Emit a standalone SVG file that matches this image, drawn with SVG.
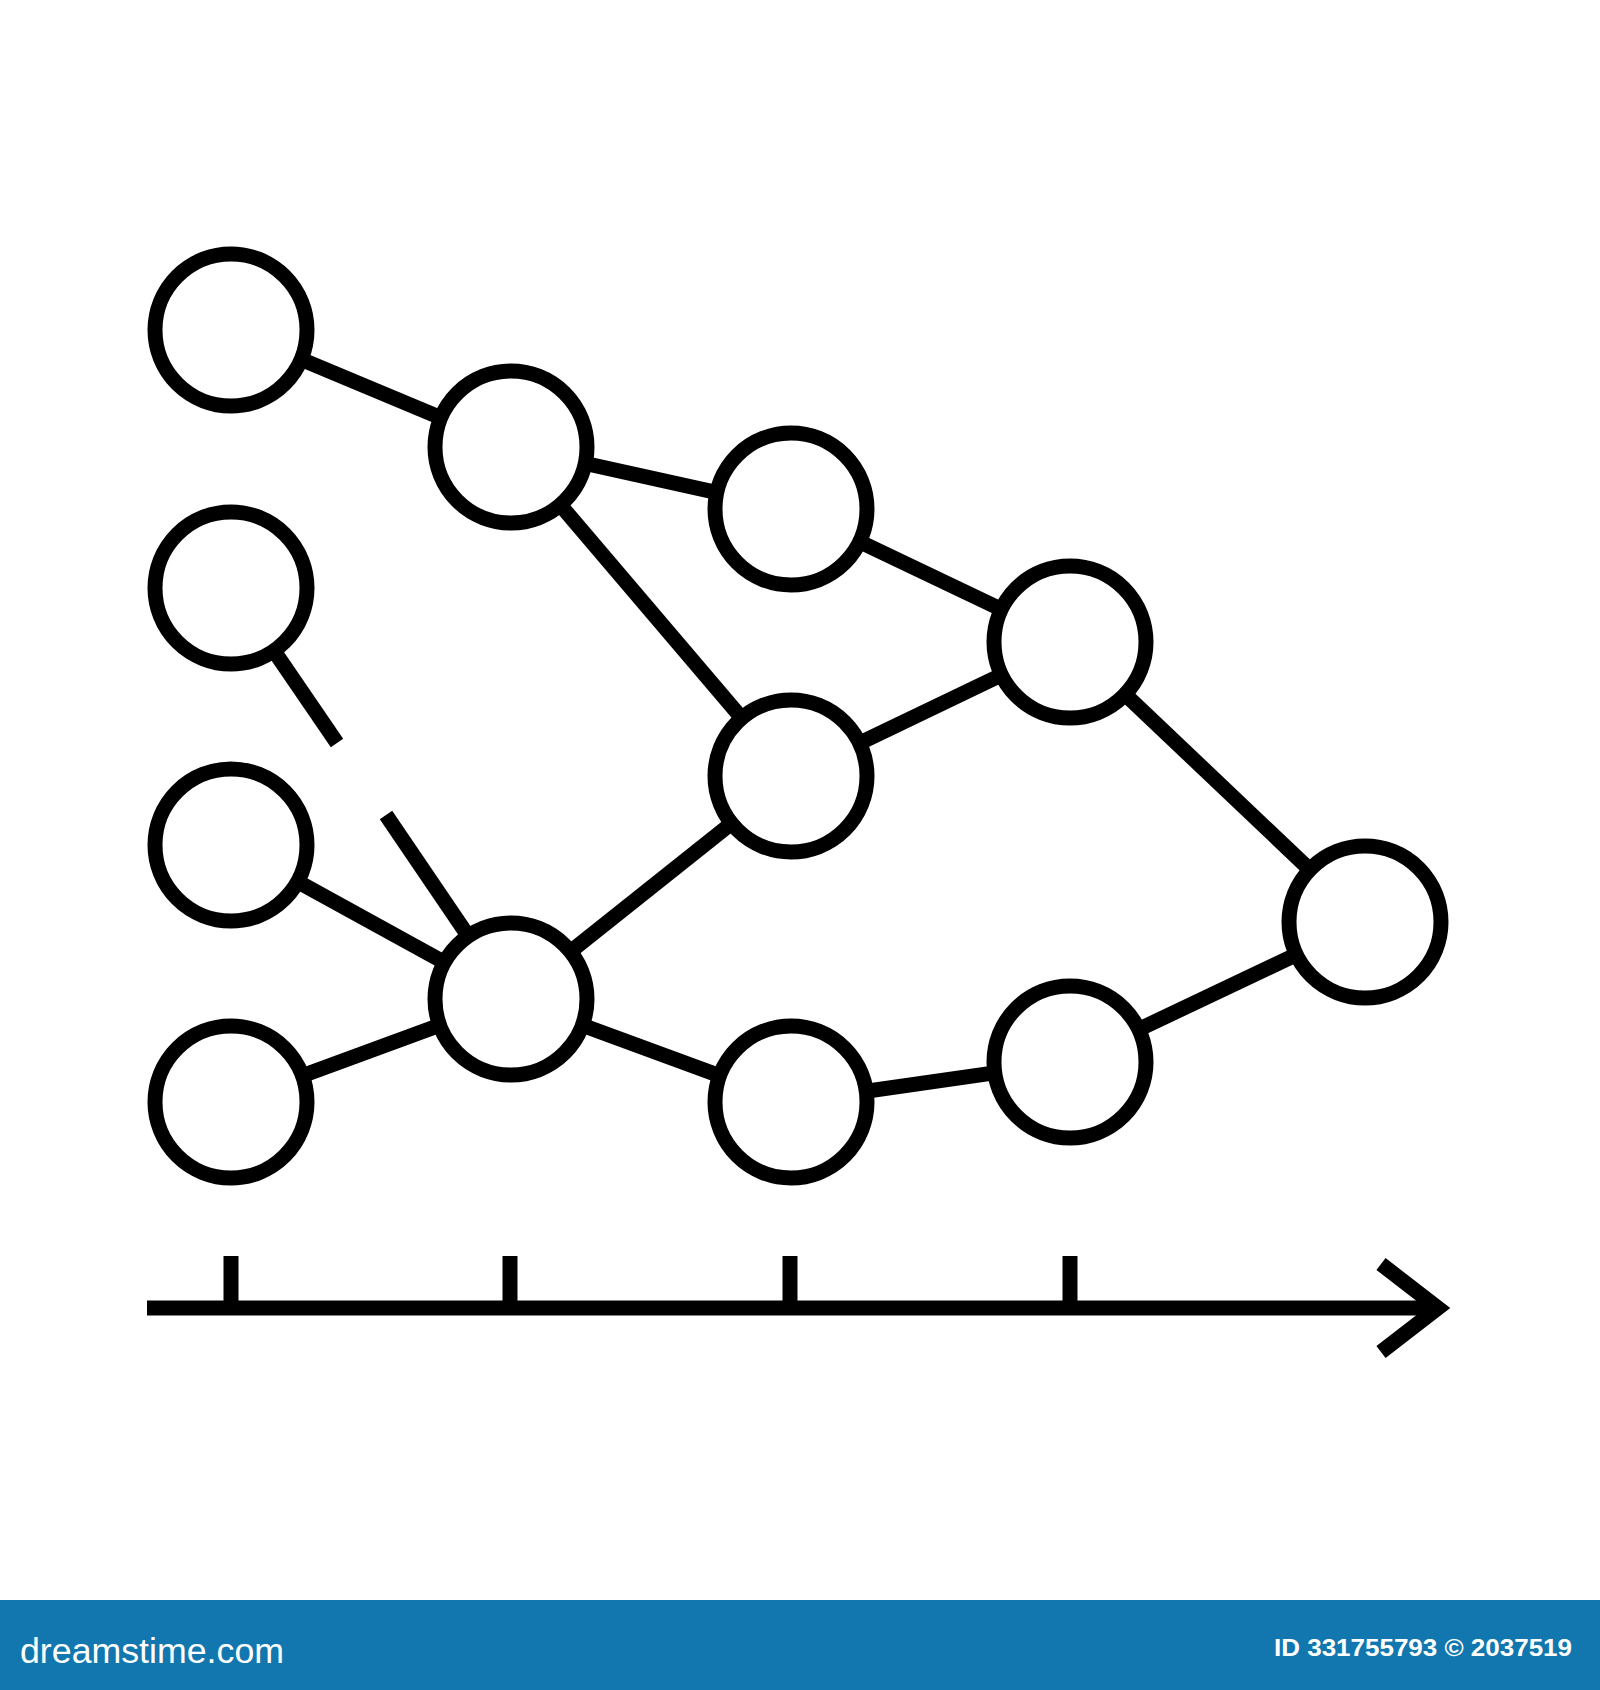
<svg xmlns="http://www.w3.org/2000/svg" width="1600" height="1690" viewBox="0 0 1600 1690">
<style>
.edge{stroke:#000;stroke-width:15;fill:none;stroke-linecap:butt}
.node{stroke:#000;stroke-width:15;fill:#fff}
.axis{stroke:#000;stroke-width:15;fill:none}
.brand{font-family:"Liberation Sans",Arial,sans-serif;fill:#fff}
</style>
<rect width="1600" height="1690" fill="#fff"/>
<g id="connectors">
<line class="edge" x1="231" y1="330" x2="511" y2="447"/>
<line class="edge" x1="511" y1="447" x2="791" y2="509"/>
<line class="edge" x1="791" y1="509" x2="1070" y2="642"/>
<line class="edge" x1="511" y1="447" x2="791" y2="776"/>
<line class="edge" x1="791" y1="776" x2="1070" y2="642"/>
<line class="edge" x1="1070" y1="642" x2="1365" y2="922"/>
<line class="edge" x1="791" y1="776" x2="511" y2="999"/>
<line class="edge" x1="231" y1="845" x2="511" y2="999"/>
<line class="edge" x1="231" y1="1102" x2="511" y2="999"/>
<line class="edge" x1="511" y1="999" x2="791" y2="1102"/>
<line class="edge" x1="791" y1="1102" x2="1070" y2="1062"/>
<line class="edge" x1="1070" y1="1062" x2="1365" y2="922"/>
<line class="edge" x1="231" y1="588" x2="337" y2="743"/>
<line class="edge" x1="386" y1="815" x2="511" y2="999"/>
</g>
<g id="n1"><circle class="node" cx="231" cy="330" r="76"/></g>
<g id="n2"><circle class="node" cx="511" cy="447" r="76"/></g>
<g id="n3"><circle class="node" cx="791" cy="509" r="76"/></g>
<g id="n4"><circle class="node" cx="231" cy="588" r="76"/></g>
<g id="n5"><circle class="node" cx="1070" cy="642" r="76"/></g>
<g id="n6"><circle class="node" cx="791" cy="776" r="76"/></g>
<g id="n7"><circle class="node" cx="231" cy="845" r="76"/></g>
<g id="n8"><circle class="node" cx="511" cy="999" r="76"/></g>
<g id="n9"><circle class="node" cx="1365" cy="922" r="76"/></g>
<g id="n10"><circle class="node" cx="231" cy="1102" r="76"/></g>
<g id="n11"><circle class="node" cx="791" cy="1102" r="76"/></g>
<g id="n12"><circle class="node" cx="1070" cy="1062" r="76"/></g>
<g id="axis">
<line class="axis" x1="147" y1="1308" x2="1438" y2="1308"/>
<line class="axis" x1="231" y1="1256" x2="231" y2="1308"/>
<line class="axis" x1="510" y1="1256" x2="510" y2="1308"/>
<line class="axis" x1="790" y1="1256" x2="790" y2="1308"/>
<line class="axis" x1="1070" y1="1256" x2="1070" y2="1308"/>
<polyline class="axis" points="1381,1264 1438,1308 1381,1352" stroke-linejoin="miter"/>
</g>
<g id="footer">
<rect x="0" y="1600" width="1600" height="90" fill="#1177ae"/>
<text class="brand" x="20" y="1663" font-size="35" textLength="264" lengthAdjust="spacingAndGlyphs">dreamstime.com</text>
<text class="brand" x="1572" y="1656" font-size="24" font-weight="bold" text-anchor="end" textLength="298" lengthAdjust="spacingAndGlyphs">ID 331755793 © 2037519</text>
</g>
</svg>
